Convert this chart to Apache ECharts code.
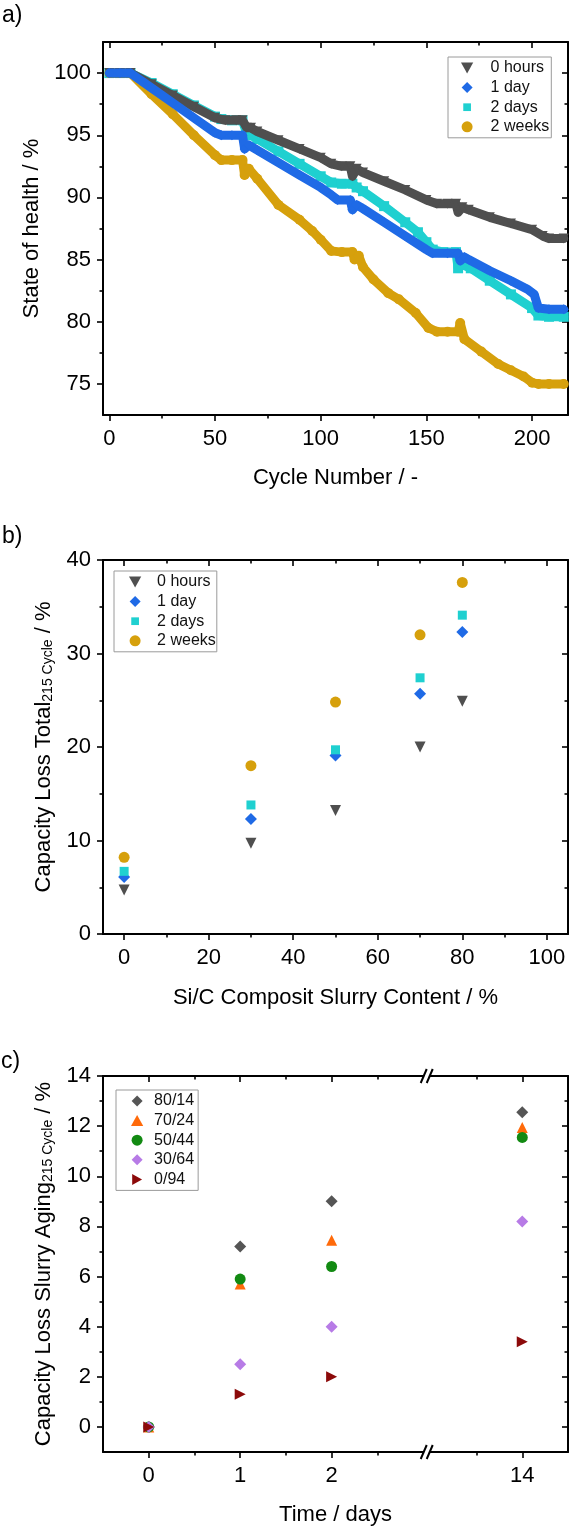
<!DOCTYPE html>
<html><head><meta charset="utf-8">
<script src="https://cdn.jsdelivr.net/npm/echarts@6/dist/echarts.min.js"></script>
<style>html,body{margin:0;padding:0;background:#fff}#c{width:573px;height:1529px}</style>
</head><body><div id="c"></div>
<script>
// ---------- Panel a: State of health vs cycle number ----------
const aNames = ['0 hours', '1 day', '2 days', '2 weeks'];
const a0hours = [[0,100],[5,100],[10,100],[20,99.1],[30,98.2],[40,97.3],[50,96.4],[55,96.2],[60,96.2],[63,96.2],[65,95.6],[67,95.6],[70,95.3],[80,94.6],[90,93.9],[100,93.2],[105,92.7],[110,92.5],[114,92.5],[115,91.7],[117,92.3],[120,92.0],[130,91.3],[140,90.6],[150,89.8],[155,89.5],[160,89.5],[164,89.5],[165,88.8],[167,89.2],[170,89.0],[180,88.4],[190,87.9],[200,87.4],[205,86.9],[208,86.7],[215,86.7]];
const a1day = [[0,100],[5,100],[10,100],[20,98.8],[30,97.6],[40,96.4],[50,95.2],[53,95.0],[58,95.0],[63,95.0],[64,93.9],[66,94.2],[70,93.8],[80,92.8],[90,91.8],[100,90.8],[105,90.2],[108,89.8],[114,89.8],[115,89.0],[117,89.4],[120,89.1],[130,88.0],[140,86.9],[150,85.8],[153,85.5],[160,85.5],[165,85.5],[166,84.9],[168,85.2],[170,85.0],[180,84.1],[190,83.3],[198,82.6],[201,82.2],[203,81.1],[208,81.0],[215,81.0]];
const a2days = [[0,100],[5,100],[10,100],[20,99.2],[30,98.3],[40,97.4],[50,96.5],[53,96.3],[58,96.2],[63,96.2],[65,95.1],[67,95.0],[70,94.7],[80,93.7],[90,92.7],[100,91.7],[105,91.2],[110,91.1],[115,91.1],[117,90.8],[120,90.5],[130,89.3],[140,88.0],[146,87.2],[150,86.4],[153,85.8],[158,85.6],[164,85.6],[165,84.3],[167,84.6],[171,84.3],[180,83.3],[190,82.2],[200,81.1],[203,80.5],[208,80.4],[215,80.4]];
const a2weeks = [[0,100],[5,100],[10,100],[20,98.3],[30,96.7],[40,95.0],[50,93.4],[53,93.0],[58,93.0],[63,93.0],[64,91.8],[66,92.3],[70,91.5],[80,89.4],[90,88.2],[96,87.3],[100,86.6],[105,85.7],[110,85.6],[115,85.6],[116,85.0],[118,85.3],[120,84.4],[125,83.4],[132,82.3],[137,81.8],[145,80.7],[151,79.5],[155,79.2],[160,79.2],[165,79.2],[166,79.9],[168,78.6],[176,77.6],[184,76.6],[190,76.1],[196,75.6],[200,75.1],[203,75.0],[208,75.0],[215,75.0]];
const aXMajor = [0,50,100,150,200], aXMinor = [25,75,125,175];
const aYMajor = [75,80,85,90,95,100], aYMinor = [77.5,82.5,87.5,92.5,97.5];

// ---------- Panel b: capacity loss total vs Si/C content ----------
const bX = [0,30,50,70,80];
const b0hours = [4.7, 9.7, 13.2, 20.0, 24.9];
const b1day = [6.1, 12.3, 19.1, 25.7, 32.3];
const b2days = [6.7, 13.8, 19.7, 27.4, 34.1];
const b2weeks = [8.2, 18.0, 24.8, 32.0, 37.6];
const bXMajor = [0,20,40,60,80,100], bXMinor = [10,30,50,70,90];
const bYMajor = [0,10,20,30,40], bYMinor = [5,15,25,35];

// ---------- Panel c: capacity loss slurry aging vs time ----------
const cNames = ['80/14', '70/24', '50/44', '30/64', '0/94'];
const cX = [0,1,2,14];
const c80_14 = [0, 7.2, 9.0, 12.55];
const c70_24 = [0, 5.7, 7.45, 11.95];
const c50_44 = [0, 5.9, 6.4, 11.55];
const c30_64 = [0, 2.5, 4.0, 8.2];
const c0_94 = [0, 1.3, 2.0, 3.4];
const cXMajor = [0,1,2,14], cXMinor = [0.5,1.5,2.5,13.5];
const cYMajor = [0,2,4,6,8,10,12,14], cYMinor = [1,3,5,7,9,11,13];
const cBreak = {start: 3.04, end: 12.955};

const FONT = '"Liberation Sans", Arial, Helvetica, sans-serif';
const BLACK = '#000';
const COL = {grey:'#4f4f4f', blue:'#1f6ae6', cyan:'#1fd0d0', gold:'#d6a00c'};
const TRI_DOWN = 'path://M0,0L10,0L5,9Z';
const TRI_UP = 'path://M5,0L10,9L0,9Z';
const TRI_RIGHT = 'path://M0,0L9,5L0,10Z';
const DIAMOND = 'path://M5,0L10,5L5,10L0,5Z';
const FS = 22;

const grids = [], xAxes = [], yAxes = [];
function panel(rect, xo, yo) {
  const base = grids.length;
  for (let i = 0; i < 4; i++) grids.push({left: rect[0], top: rect[1], width: rect[2], height: rect[3]});
  const common = (o) => ({type: 'value', min: o.min, max: o.max, splitLine: {show: false}});
  const brk = xo.breaks ? {breaks: xo.breaks, breakArea: {show: false}} : {};
  const tickStyle = {color: BLACK, width: 1.6};
  const label = (o, margin) => ({show: true, customValues: o.major, margin: margin, fontSize: FS, color: BLACK, fontFamily: FONT});
  xAxes.push(Object.assign(common(xo), brk, {gridIndex: base, position: 'bottom',
    axisLine: {show: true, onZero: false, lineStyle: {color: BLACK, width: 2}},
    axisTick: {show: true, inside: false, length: 6, customValues: xo.major, lineStyle: tickStyle},
    axisLabel: label(xo, 13),
    name: xo.name, nameLocation: 'middle', nameGap: xo.nameGap,
    nameTextStyle: {fontSize: FS, color: BLACK, fontFamily: FONT}}));
  yAxes.push(Object.assign(common(yo), {gridIndex: base, position: 'left',
    axisLine: {show: true, onZero: false, lineStyle: {color: BLACK, width: 2}},
    axisTick: {show: true, inside: false, length: 6, customValues: yo.major, lineStyle: tickStyle},
    axisLabel: label(yo, 12),
    name: yo.name, nameLocation: 'middle', nameGap: yo.nameGap, nameRotate: 90,
    nameTextStyle: {fontSize: FS, color: BLACK, fontFamily: FONT, rich: yo.rich}}));
  xAxes.push(Object.assign(common(xo), brk, {gridIndex: base + 1, position: 'bottom',
    axisLine: {show: false, onZero: false}, axisLabel: {show: false},
    axisTick: {show: true, inside: false, length: 3.5, customValues: xo.minor, lineStyle: tickStyle}}));
  yAxes.push(Object.assign(common(yo), {gridIndex: base + 1, position: 'left',
    axisLine: {show: false, onZero: false}, axisLabel: {show: false},
    axisTick: {show: true, inside: false, length: 3.5, customValues: yo.minor, lineStyle: tickStyle}}));
  xAxes.push(Object.assign(common(xo), brk, {gridIndex: base + 2, position: 'top',
    axisLine: {show: true, onZero: false, lineStyle: {color: BLACK, width: 2}}, axisLabel: {show: false},
    axisTick: {show: true, inside: true, length: 6, customValues: xo.major, lineStyle: tickStyle}}));
  yAxes.push(Object.assign(common(yo), {gridIndex: base + 2, position: 'right',
    axisLine: {show: true, onZero: false, lineStyle: {color: BLACK, width: 2}}, axisLabel: {show: false},
    axisTick: {show: true, inside: true, length: 6, customValues: yo.major, lineStyle: tickStyle}}));
  xAxes.push(Object.assign(common(xo), brk, {gridIndex: base + 3, position: 'top',
    axisLine: {show: false, onZero: false}, axisLabel: {show: false},
    axisTick: {show: true, inside: true, length: 3.5, customValues: xo.minor, lineStyle: tickStyle}}));
  yAxes.push(Object.assign(common(yo), {gridIndex: base + 3, position: 'right',
    axisLine: {show: false, onZero: false}, axisLabel: {show: false},
    axisTick: {show: true, inside: true, length: 3.5, customValues: yo.minor, lineStyle: tickStyle}}));
  return base;
}

const subRich = {
  m: {fontSize: FS, color: BLACK, fontFamily: FONT},
  s: {fontSize: 14, color: BLACK, fontFamily: FONT, padding: [9, 0, 0, 0]}
};

const A = panel([103, 42, 465, 373],
  {min: -3, max: 217, major: aXMajor, minor: aXMinor, name: 'Cycle Number / -', nameGap: 52},
  {min: 72.5, max: 102.5, major: aYMajor, minor: aYMinor, name: 'State of health / %', nameGap: 59});
const B = panel([103, 560, 465, 374],
  {min: -5, max: 105, major: bXMajor, minor: bXMinor, name: 'Si/C Composit Slurry Content / %', nameGap: 53},
  {min: 0, max: 40, major: bYMajor, minor: bYMinor, name: '{m|Capacity Loss Total}{s|215 Cycle}{m| / %}', nameGap: 46, rich: subRich});
const C = panel([103, 1076, 465, 376],
  {min: -0.5, max: 14.5, major: cXMajor, minor: cXMinor, name: 'Time / days', nameGap: 52, breaks: [{start: cBreak.start, end: cBreak.end, gap: 0}]},
  {min: -1, max: 14, major: cYMajor, minor: cYMinor, name: '{m|Capacity Loss Slurry Aging}{s|215 Cycle}{m| / %}', nameGap: 44, rich: subRich});

function lineSeries(name, data, color, symbol, z) {
  return {type: 'line', name, data, xAxisIndex: A, yAxisIndex: A, color, symbol, symbolSize: 10,
    showSymbol: true, z, lineStyle: {width: 9, color, cap: 'round', join: 'round'},
    itemStyle: {color}, emphasis: {disabled: true}, animation: false};
}
function scatter(name, xs, ys, color, symbol, size, idx) {
  return {type: 'scatter', name, data: xs.map((x, i) => [x, ys[i]]), xAxisIndex: idx, yAxisIndex: idx,
    symbol, symbolSize: size, itemStyle: {color, opacity: 1}, emphasis: {disabled: true}, animation: false};
}

const series = [
  lineSeries('2 days', a2days, COL.cyan, 'rect', 2),
  lineSeries('2 weeks', a2weeks, COL.gold, 'circle', 3),
  lineSeries('0 hours', a0hours, COL.grey, TRI_DOWN, 4),
  lineSeries('1 day', a1day, COL.blue, DIAMOND, 5),
  scatter('0 hours', bX, b0hours, COL.grey, TRI_DOWN, 11, B),
  scatter('1 day', bX, b1day, COL.blue, DIAMOND, 12, B),
  scatter('2 days', bX, b2days, COL.cyan, 'rect', 9, B),
  scatter('2 weeks', bX, b2weeks, COL.gold, 'circle', 11, B),
  scatter('80/14', cX, c80_14, '#555555', DIAMOND, 12, C),
  scatter('70/24', cX, c70_24, '#ff6a0a', TRI_UP, 11, C),
  scatter('50/44', cX, c50_44, '#128a12', 'circle', 11, C),
  scatter('30/64', cX, c30_64, '#b77be6', DIAMOND, 12, C),
  scatter('0/94', cX, c0_94, '#8c0a0a', TRI_RIGHT, 11, C)
];

const SQ = 'path://M0,0M10,10M1.5,1.5L8.5,1.5L8.5,8.5L1.5,8.5Z';
function legend(left, top, items, iw, pl, pr, tp) {
  return {left, top, orient: 'vertical', padding: [3, pr, 3, pl], itemGap: 3.6, itemWidth: iw, itemHeight: 11,
    borderColor: '#9a9a9a', borderWidth: 1, borderRadius: 0, backgroundColor: '#fff',
    textStyle: {fontSize: 16, color: '#111', fontFamily: FONT, padding: [0, 0, 0, tp]},
    selectedMode: false, data: items};
}
const legItemsA = [{name: '0 hours', icon: TRI_DOWN}, {name: '1 day', icon: DIAMOND}, {name: '2 days', icon: SQ}, {name: '2 weeks', icon: 'circle'}];
const legItemsC = [{name: '80/14', icon: DIAMOND}, {name: '70/24', icon: TRI_UP}, {name: '50/44', icon: 'circle'}, {name: '30/64', icon: DIAMOND}, {name: '0/94', icon: TRI_RIGHT}];

const chart = echarts.init(document.getElementById('c'), null, {renderer: 'canvas'});
chart.setOption({
  backgroundColor: '#fff',
  animation: false,
  grid: grids, xAxis: xAxes, yAxis: yAxes, series,
  legend: [legend(448, 57, legItemsA, 21, 13, 2, 8), legend(114, 571, legItemsA, 24, 15, 1, 5), legend(116, 1090, legItemsC, 24, 15, 4, 0)]
});

// panel letters and axis-break marks "//" on top and bottom edges of panel c
const graphics = [
  {id: 'la', type: 'text', left: 2, top: 4, style: {text: 'a)', fontSize: 23, fill: BLACK, fontFamily: FONT}},
  {id: 'lb', type: 'text', left: 2, top: 525, style: {text: 'b)', fontSize: 23, fill: BLACK, fontFamily: FONT}},
  {id: 'lc', type: 'text', left: 1, top: 1050, style: {text: 'c)', fontSize: 23, fill: BLACK, fontFamily: FONT}}
];
const bx = chart.convertToPixel({xAxisIndex: C}, cBreak.start);
const yBottom = chart.convertToPixel({yAxisIndex: C}, -1);
const yTop = chart.convertToPixel({yAxisIndex: C}, 14);
[yTop, yBottom].forEach(function (y, k) {
  graphics.push({id: 'r' + k, type: 'rect', shape: {x: bx - 3, y: y - 3, width: 6, height: 6}, style: {fill: '#fff'}, z: 100});
  graphics.push({id: 'p' + k, type: 'line', shape: {x1: bx - 6, y1: y + 7, x2: bx, y2: y - 7}, style: {stroke: BLACK, lineWidth: 2}, z: 101});
  graphics.push({id: 'q' + k, type: 'line', shape: {x1: bx, y1: y + 7, x2: bx + 6, y2: y - 7}, style: {stroke: BLACK, lineWidth: 2}, z: 101});
});
chart.setOption({graphic: graphics});
</script>
</body></html>
